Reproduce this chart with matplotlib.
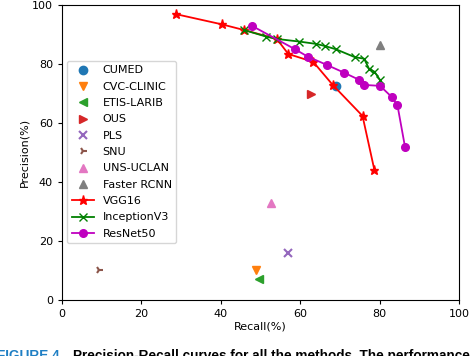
import matplotlib
matplotlib.use("Agg")
import matplotlib.pyplot as plt

# Single-point methods
methods = ["CUMED", "CVC-CLINIC", "ETIS-LARIB", "OUS", "PLS", "SNU", "UNS-UCLAN", "Faster RCNN"]
method_recall = [69.0, 48.9, 49.5, 62.7, 57.0, 9.4, 52.6, 80.1]
method_precision = [72.5, 10.2, 7.0, 69.7, 15.8, 10.2, 32.8, 86.4]
method_markers = ["o", "v", "<", ">", "x", "4", "^", "^"]
method_colors = ["C0", "C1", "C2", "C3", "C4", "C5", "C6", "C7"]

# Curves
vgg_recall = [28.7, 40.4, 45.9, 54.1, 57.0, 63.3, 68.2, 75.7, 78.7]
vgg_precision = [96.9, 93.4, 91.5, 88.5, 83.4, 80.7, 72.9, 62.4, 44.0]

inc_recall = [45.9, 51.4, 54.1, 59.8, 64.1, 66.2, 69.0, 73.8, 76.1, 77.4, 78.7, 80.1]
inc_precision = [91.5, 89.3, 88.5, 87.6, 86.8, 86.1, 85.0, 82.3, 81.8, 78.2, 77.4, 74.6]

res_recall = [47.9, 58.7, 61.9, 66.7, 71.0, 74.9, 76.1, 80.1, 83.0, 84.5, 86.4]
res_precision = [92.9, 85.0, 82.5, 79.7, 77.1, 74.6, 72.9, 72.6, 68.9, 66.0, 51.9]

caption_label = "FIGURE 4."
caption_text = "Precision-Recall curves for all the methods. The performance"

fig = plt.figure(figsize=(4.74, 3.56), dpi=100)
ax = fig.add_axes([62/474, 1 - 300/356, 397/474, 295/356])

for name, x, y, m, c in zip(methods, method_recall, method_precision, method_markers, method_colors):
    ax.plot([x], [y], linestyle="none", marker=m, color=c, markersize=6,
            markeredgewidth=1.5 if m in ("x", "4") else 1.0, label=name)

ax.plot(vgg_recall, vgg_precision, color="r", marker="*", markersize=6.5, linewidth=1.3, label="VGG16")
ax.plot(inc_recall, inc_precision, color="g", marker="x", markersize=5.5, linewidth=1.3, label="InceptionV3")
ax.plot(res_recall, res_precision, color="m", marker="o", markersize=5.5, linewidth=1.3, label="ResNet50")

ax.set_xlim(0, 100)
ax.set_ylim(0, 100)
ax.set_xticks([0, 20, 40, 60, 80, 100])
ax.set_yticks([0, 20, 40, 60, 80, 100])
ax.tick_params(labelsize=8, length=3)
ax.set_xlabel("Recall(%)", fontsize=8, labelpad=2)
ax.set_ylabel("Precision(%)", fontsize=8, labelpad=2)

ax.legend(loc="upper left", bbox_to_anchor=(-0.001, 0.829), fontsize=8,
          labelspacing=0.57, handlelength=2.0, borderpad=0.4, framealpha=0.8)

fig.text(-0.006, -0.02, caption_label, fontsize=9.8, fontweight="bold", color="#1f7fc4",
         va="bottom", family=["Liberation Sans", "DejaVu Sans"])
fig.text(73/474, -0.02, caption_text, fontsize=9.8, fontweight="bold", color="black",
         va="bottom", family=["Liberation Sans", "DejaVu Sans"])

fig.savefig("out.png", dpi=100)
